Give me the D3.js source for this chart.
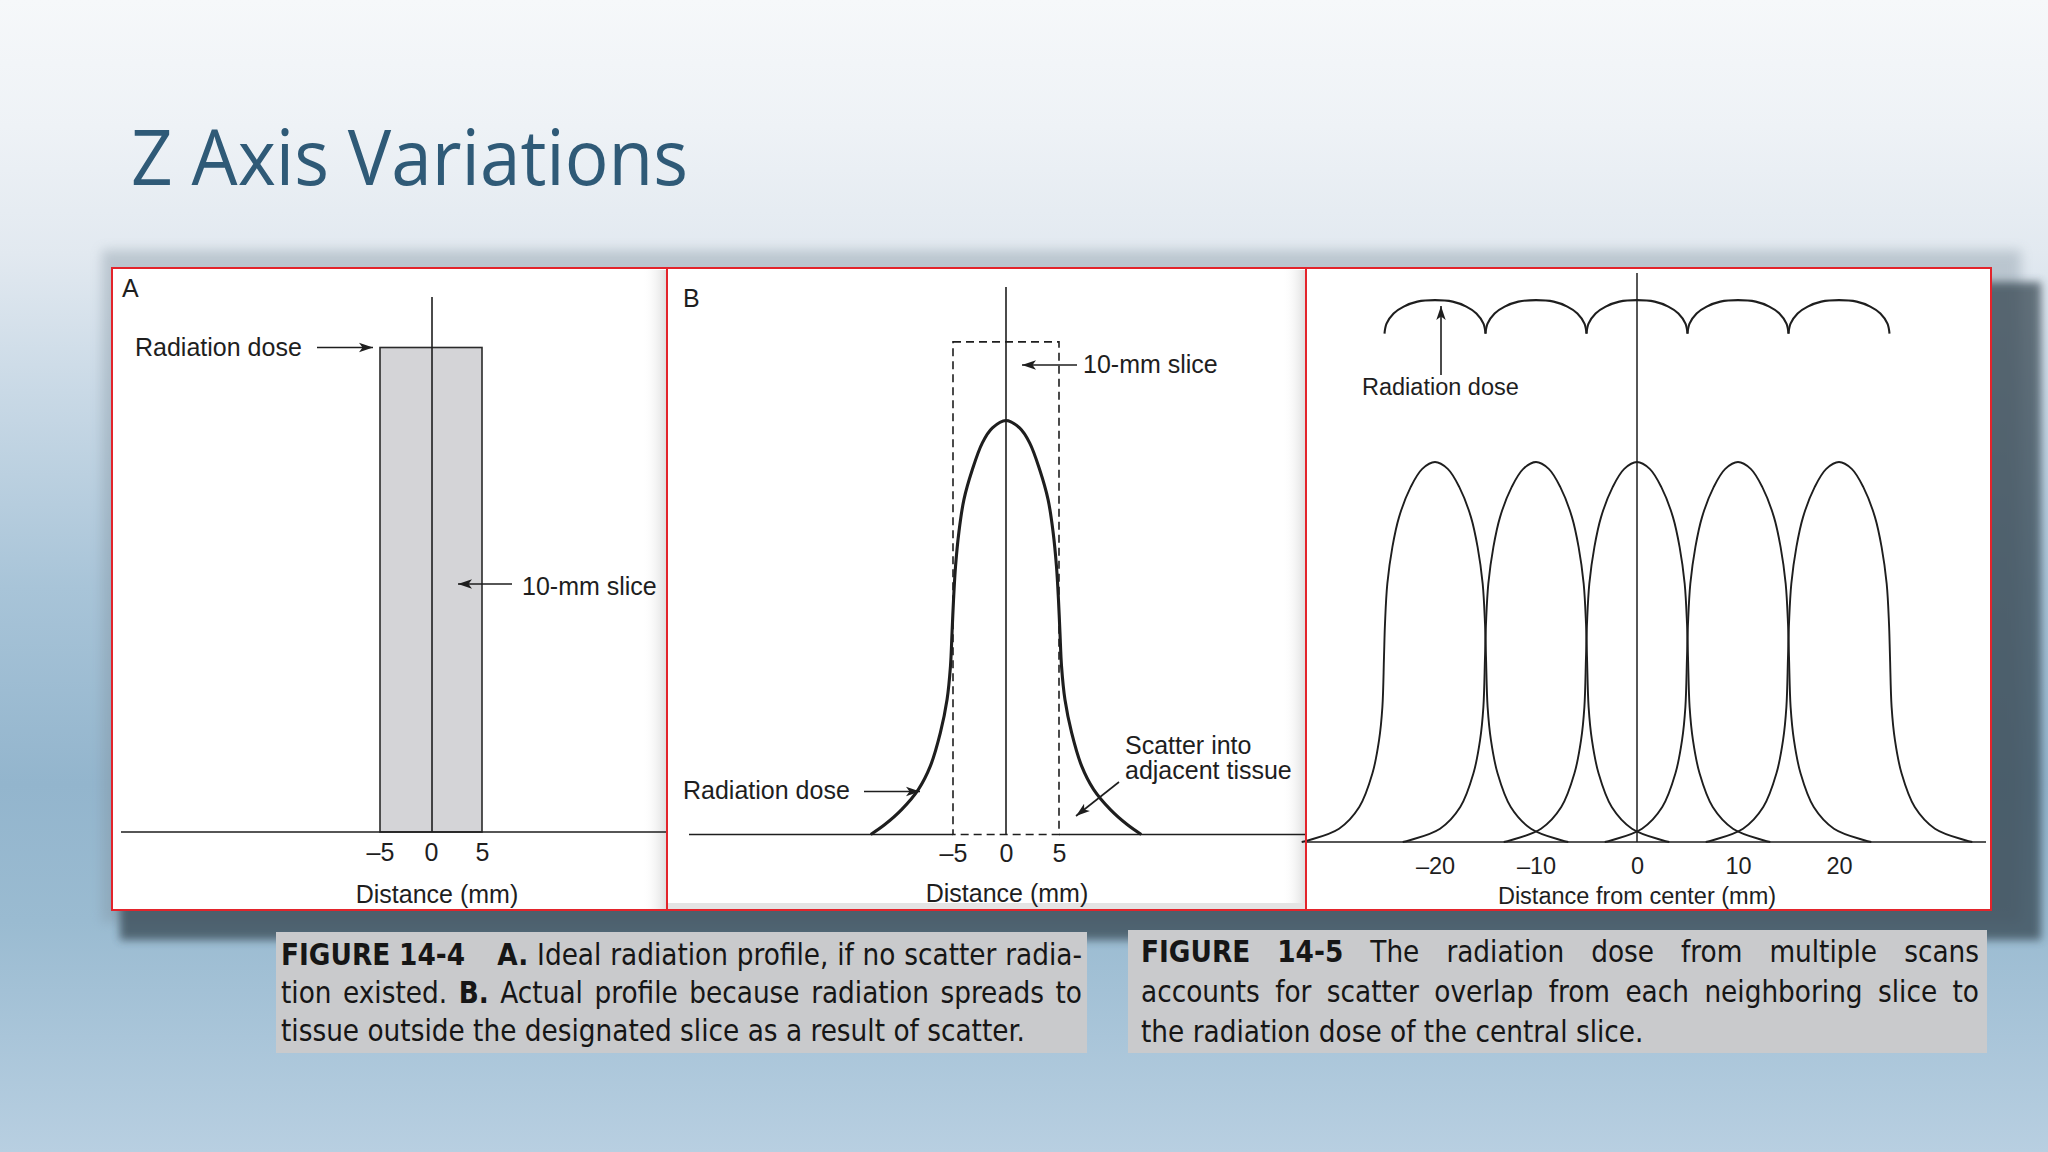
<!DOCTYPE html>
<html><head><meta charset="utf-8">
<script src="https://cdn.jsdelivr.net/npm/d3@7"></script>
<style>body{margin:0;overflow:hidden;background:#fff}</style>
</head><body>
<svg id="c" width="2048" height="1152" xmlns="http://www.w3.org/2000/svg"></svg>
<script>
// ---------------- data ----------------
const titleText = "Z Axis Variations";
const ticksA = [-5, 0, 5];
const ticksB = [-5, 0, 5];
const ticksC = [-20, -10, 0, 10, 20];
const sliceEdges = [-5, 5];          // 10-mm slice (mm)
const idealDose = 1.0;               // panel A rectangle height
const sliceOutlineTop = 1.19;        // panel B dashed slice outline height
// panel B: actual dose profile [mm, relative dose]
const actualProfileB = [
  [-12.76,0],[-11.43,0.024],[-9.85,0.06],[-8.26,0.109],[-7.14,0.165],[-6.19,0.246],[-5.56,0.326],
  [-5.24,0.406],[-5.09,0.488],[-4.95,0.567],[-4.76,0.648],[-4.45,0.729],[-3.97,0.809],[-3.18,0.881],
  [-2.23,0.946],[-1.28,0.982],[0,1.0],[1.28,0.982],[2.23,0.946],[3.18,0.881],[3.97,0.809],[4.45,0.729],
  [4.76,0.648],[4.95,0.567],[5.09,0.488],[5.24,0.406],[5.56,0.326],[6.19,0.246],[7.14,0.165],
  [8.26,0.109],[9.85,0.06],[11.43,0.024],[12.76,0]
];
// panel C: scan centres and single-scan profile [mm offset, relative dose]
const scanCentersC = [-20, -10, 0, 10, 20];
const scanProfileC = [
  [-13.2,0],[-12.5,0.0046],[-9.5,0.035],[-7.5,0.092],[-6.2,0.18],[-5.54,0.268],[-5.21,0.355],
  [-5.05,0.487],[-4.95,0.575],[-4.72,0.68],[-4.22,0.776],[-3.56,0.855],[-2.41,0.934],[-1.26,0.982],
  [0,1.0],[1.26,0.982],[2.41,0.934],[3.56,0.855],[4.22,0.776],[4.72,0.68],[4.95,0.575],[5.05,0.487],
  [5.21,0.355],[5.54,0.268],[6.2,0.18],[7.5,0.092],[9.5,0.035],[12.5,0.0046],[13.2,0]
];
// panel C: summed radiation dose, one arc per scan [mm offset, relative dose]
const summedDoseArc = [
  [-5,1.338],[-4.8,1.364],[-4.1,1.391],[-3.1,1.409],[-1.75,1.422],[0,1.426],
  [1.75,1.422],[3.1,1.409],[4.1,1.391],[4.8,1.364],[5,1.338]
];
const caption1Lines = [
  "*FIGURE* *14-4* ~ *A.* Ideal radiation profile, if no scatter radia-",
  "tion existed. *B.* Actual profile because radiation spreads to",
  "tissue outside the designated slice as a result of scatter."
];
const caption2Lines = [
  "*FIGURE* *14-5* The radiation dose from multiple scans",
  "accounts for scatter overlap from each neighboring slice to",
  "the radiation dose of the central slice."
];

// ---------------- drawing ----------------
const svg = d3.select("#c");
const defs = svg.append("defs");
const W = 2048, H = 1152;
const ink = "#1e1e1e";
const sansFont = "'Liberation Sans', Arial, sans-serif";

const bg = defs.append("linearGradient").attr("id","bg").attr("x1",0).attr("y1",0).attr("x2",0).attr("y2",1);
[[0,"#f6f8fa"],[0.11,"#eef2f6"],[0.22,"#e2e9f0"],[0.34,"#c9d9e6"],[0.51,"#a8c4d8"],[0.68,"#93b5cd"],[0.8,"#9abbd1"],[1,"#b8cfe1"]]
  .forEach(([o,c]) => bg.append("stop").attr("offset",o).attr("stop-color",c));
svg.append("rect").attr("width",W).attr("height",H).attr("fill","url(#bg)");

const blur6 = defs.append("filter").attr("id","blur6").attr("x","-5%").attr("y","-10%").attr("width","110%").attr("height","120%");
blur6.append("feGaussianBlur").attr("stdDeviation",6);
const blur4 = defs.append("filter").attr("id","blur4").attr("x","-5%").attr("y","-10%").attr("width","110%").attr("height","120%");
blur4.append("feGaussianBlur").attr("stdDeviation",4);

const stripGrad = defs.append("linearGradient").attr("id","strip").attr("x1",0).attr("x2",1).attr("y1",0).attr("y2",0);
stripGrad.append("stop").attr("offset",0).attr("stop-color","#ffffff").attr("stop-opacity",0);
stripGrad.append("stop").attr("offset",1).attr("stop-color","#dcdcdc");

// title
svg.append("text").attr("x",131).attr("y",185)
  .attr("font-family","'Open Sans', 'Noto Sans', sans-serif").attr("font-size",77)
  .attr("fill","#2f5a77").attr("textLength",557).attr("lengthAdjust","spacingAndGlyphs")
  .text(titleText);

// figure shadows
const figTop = 268, figBot = 910, figL = 112, figR = 1991;
svg.append("rect").attr("x",figL-10).attr("y",figTop-18).attr("width",figR-figL+40).attr("height",figBot-figTop+30)
  .attr("fill","#7f909c").attr("opacity",0.38).attr("filter","url(#blur6)");
svg.append("rect").attr("x",figL+8).attr("y",figTop+14).attr("width",figR-figL+42).attr("height",figBot-figTop+16)
  .attr("fill","#33434e").attr("opacity",0.72).attr("filter","url(#blur4)");

// panels
const panels = [{x0:112,x1:667},{x0:667,x1:1306},{x0:1306,x1:1991}];
panels.forEach(p => svg.append("rect").attr("x",p.x0).attr("y",figTop).attr("width",p.x1-p.x0).attr("height",figBot-figTop).attr("fill","#ffffff"));
svg.append("rect").attr("x",642).attr("y",figTop+2).attr("width",25).attr("height",figBot-figTop-2).attr("fill","url(#strip)");
svg.append("rect").attr("x",1282).attr("y",figTop+2).attr("width",24).attr("height",figBot-figTop-2).attr("fill","url(#strip)");
svg.append("rect").attr("x",667).attr("y",903).attr("width",639).attr("height",7).attr("fill","#e4e4e4");

// arrow marker
defs.append("marker").attr("id","arr").attr("markerUnits","userSpaceOnUse")
  .attr("markerWidth",16).attr("markerHeight",12).attr("refX",14).attr("refY",5.5).attr("orient","auto")
  .append("path").attr("d","M0,0.8 L14,5.5 L0,10.2 L3.5,5.5 Z").attr("fill",ink);

function label(x, y, txt, size, anchor) {
  return svg.append("text").attr("x",x).attr("y",y).attr("font-family",sansFont)
    .attr("font-size",size||25).attr("fill",ink).attr("text-anchor",anchor||"start").text(txt);
}
function arrow(x1,y1,x2,y2,w) {
  svg.append("line").attr("x1",x1).attr("y1",y1).attr("x2",x2).attr("y2",y2)
    .attr("stroke",ink).attr("stroke-width",w||1.6).attr("marker-end","url(#arr)");
}
const fmt = d => d < 0 ? "\u2013" + Math.abs(d) : String(d);
function xAxis(scale, ticks, y, pad, size) {
  const g = svg.append("g").attr("transform",`translate(0,${y})`)
    .call(d3.axisBottom(scale).tickValues(ticks).tickSize(0).tickPadding(pad).tickFormat(fmt));
  g.select(".domain").remove();
  g.selectAll("text").attr("font-family",sansFont).attr("font-size",size).attr("fill",ink);
}

// ---- Panel A ----
const xA = d3.scaleLinear().domain([-5,5]).range([380,482]);
const yA = d3.scaleLinear().domain([0,1]).range([832,347.5]);
svg.append("rect").attr("x",xA(sliceEdges[0])).attr("y",yA(idealDose))
  .attr("width",xA(sliceEdges[1])-xA(sliceEdges[0])).attr("height",yA(0)-yA(idealDose))
  .attr("fill","#d4d4d7").attr("stroke","#2a2a2a").attr("stroke-width",1.6);
svg.append("line").attr("x1",xA(0)+1).attr("x2",xA(0)+1).attr("y1",297).attr("y2",yA(0)).attr("stroke",ink).attr("stroke-width",1.6);
svg.append("line").attr("x1",121).attr("x2",666).attr("y1",yA(0)).attr("y2",yA(0)).attr("stroke",ink).attr("stroke-width",1.6);
xAxis(xA, ticksA, yA(0), 11, 25);
label(122,297,"A",25);
label(135,356,"Radiation dose",25);
arrow(317,347.5,373,347.5);
label(522,595,"10-mm slice",25);
arrow(512,584,458,584);
label(437,903,"Distance (mm)",25,"middle");

// ---- Panel B ----
const xB = d3.scaleLinear().domain([-5,5]).range([953,1059]);
const yB = d3.scaleLinear().domain([0,1]).range([834.5,420.5]);
svg.append("line").attr("x1",689).attr("x2",xB(sliceEdges[0])).attr("y1",yB(0)).attr("y2",yB(0)).attr("stroke",ink).attr("stroke-width",1.6);
svg.append("line").attr("x1",xB(sliceEdges[1])).attr("x2",1306).attr("y1",yB(0)).attr("y2",yB(0)).attr("stroke",ink).attr("stroke-width",1.6);
svg.append("rect").attr("x",xB(sliceEdges[0])).attr("y",yB(sliceOutlineTop))
  .attr("width",xB(sliceEdges[1])-xB(sliceEdges[0])).attr("height",yB(0)-yB(sliceOutlineTop))
  .attr("fill","none").attr("stroke",ink).attr("stroke-width",1.6).attr("stroke-dasharray","8,5");
svg.append("line").attr("x1",xB(0)).attr("x2",xB(0)).attr("y1",287).attr("y2",yB(0)).attr("stroke",ink).attr("stroke-width",1.6);
const lineB = d3.line().x(d => xB(d[0])).y(d => yB(d[1])).curve(d3.curveCatmullRom.alpha(0.5));
svg.append("path").attr("d",lineB(actualProfileB)).attr("fill","none").attr("stroke",ink).attr("stroke-width",3.1).attr("stroke-linejoin","round");
xAxis(xB, ticksB, yB(0), 10, 25);
label(683,307,"B",25);
label(1083,373,"10-mm slice",25);
arrow(1077,365,1022,365);
label(683,799,"Radiation dose",25);
arrow(864,791.5,920,791.5);
label(1125,754,"Scatter into",25);
label(1125,778.5,"adjacent tissue",25);
arrow(1119,782,1076,816);
label(1007,902,"Distance (mm)",25,"middle");

// ---- Panel C ----
const xC = d3.scaleLinear().domain([-20,20]).range([1435,1839]);
const yC = d3.scaleLinear().domain([0,1]).range([842,462]);
svg.append("line").attr("x1",1307).attr("x2",1986).attr("y1",yC(0)).attr("y2",yC(0)).attr("stroke",ink).attr("stroke-width",1.6);
svg.append("line").attr("x1",xC(0)).attr("x2",xC(0)).attr("y1",273).attr("y2",yC(0)).attr("stroke",ink).attr("stroke-width",1.5);
scanCentersC.forEach(c => {
  const ln = d3.line().x(d => xC(c + d[0])).y(d => yC(d[1])).curve(d3.curveCatmullRom.alpha(0.5));
  svg.append("path").attr("d",ln(scanProfileC)).attr("fill","none").attr("stroke",ink).attr("stroke-width",1.9);
  svg.append("path").attr("d",ln(summedDoseArc)).attr("fill","none").attr("stroke",ink).attr("stroke-width",2.1);
});
xAxis(xC, ticksC, yC(0), 15.5, 23.5);
label(1362,395,"Radiation dose",23.5);
arrow(1441,375,1441,306);
label(1637,904,"Distance from center (mm)",23.5,"middle");

// panel borders
panels.forEach(p => svg.append("rect").attr("x",p.x0).attr("y",figTop).attr("width",p.x1-p.x0).attr("height",figBot-figTop)
  .attr("fill","none").attr("stroke","#e3242b").attr("stroke-width",2));

// ---- captions ----
const capFont = "'DejaVu Sans Condensed', 'DejaVu Sans', sans-serif";
svg.append("rect").attr("x",276).attr("y",932).attr("width",811).attr("height",121).attr("fill","#c9cacc");
svg.append("rect").attr("x",1128).attr("y",930).attr("width",859).attr("height",123).attr("fill","#c9cacc");

function measure(txt, size, bold) {
  const t = svg.append("text").attr("font-family",capFont).style("font-stretch","condensed")
    .attr("font-size",size).attr("font-weight",bold?"bold":"normal").text(txt);
  const w = t.node().getComputedTextLength(); t.remove(); return w;
}
const fs1 = 100 * 726 / measure(caption1Lines[2], 100, false);
const fs2 = 100 * 515 / measure(caption2Lines[2], 100, false);
const capSize = (fs1 + fs2) / 2;

function caption(lines, x0, width, baselines) {
  const spaceW = measure("n n", capSize) - measure("nn", capSize);
  lines.forEach((line, li) => {
    const toks = line.split(" ");
    const words = []; let extra = 0;
    toks.forEach(tk => {
      if (tk === "~") { extra += capSize * 0.8; if (words.length) words[words.length-1].extra = capSize*0.8; return; }
      const bold = /^\*.*\*$/.test(tk);
      const txt = bold ? tk.slice(1,-1) : tk;
      words.push({txt, bold, w: measure(txt, capSize, bold), extra: 0});
    });
    const sumW = d3.sum(words, d => d.w);
    const last = li === lines.length - 1;
    const gap = last ? spaceW : (width - sumW - extra) / (words.length - 1);
    let x = x0;
    words.forEach(wd => {
      svg.append("text").attr("x",x).attr("y",baselines[li]).attr("font-family",capFont).style("font-stretch","condensed")
        .attr("font-size",capSize).attr("font-weight",wd.bold?"bold":"normal").attr("fill","#161616").text(wd.txt);
      x += wd.w + gap + wd.extra;
    });
  });
}
caption(caption1Lines, 281, 801, [965, 1003, 1041]);
caption(caption2Lines, 1141, 838, [962, 1002, 1042]);
</script>
</body></html>
